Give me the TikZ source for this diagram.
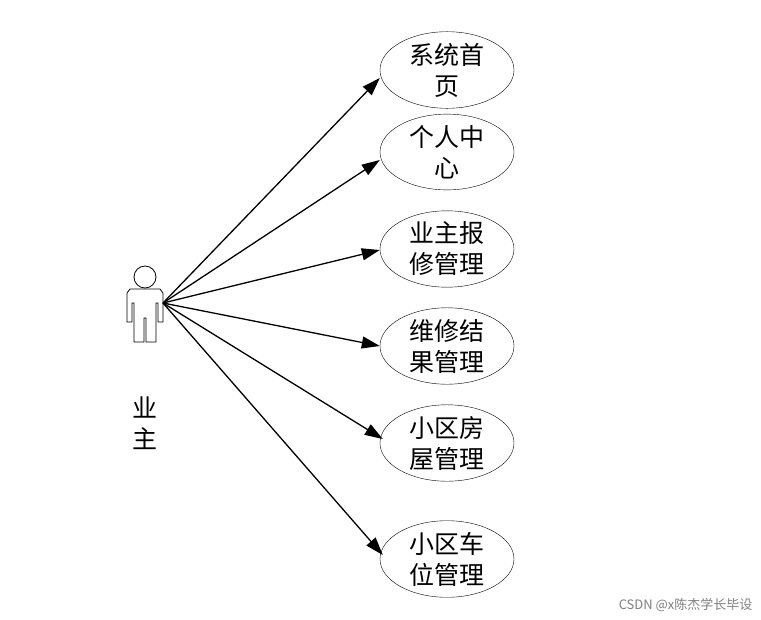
\documentclass[tikz,border=0pt]{standalone}
\usepackage{fontspec}
\newfontfamily\cjk{Noto Sans CJK SC}
\usetikzlibrary{arrows.meta,shapes.geometric}
\begin{document}
\begin{tikzpicture}[x=1pt,y=-1pt,
  uc/.style={draw,ellipse,minimum width=134pt,minimum height=69pt,inner sep=0pt,align=center,font=\cjk\fontsize{25}{31}\selectfont},
  conn/.style={-{Triangle[length=18pt,width=12pt]},line width=1.3pt}]
\useasboundingbox (0,0) rectangle (761,619);
\fill[white] (0,0) rectangle (761,619);
\node[uc] (u1) at (447,70) {系统首\\页};
\node[uc] (u2) at (447,152) {个人中\\心};
\node[uc] (u3) at (447,249) {业主报\\修管理};
\node[uc] (u4) at (447,346) {维修结\\果管理};
\node[uc] (u5) at (447,443) {小区房\\屋管理};
\node[uc] (u6) at (447,559) {小区车\\位管理};
\draw[line width=0.8pt] (145,277) circle (11);
\draw[line width=0.8pt] (130,289) -- (160,289) -- (163,293) -- (163,322) -- (158,322) -- (158,303) -- (156,303) -- (156,342) -- (146,342) -- (146,318) -- (144,318) -- (144,342) -- (134,342) -- (134,303) -- (132,303) -- (132,322) -- (127,322) -- (127,293) -- cycle;
\coordinate (a) at (163,303);
\node[font=\cjk\fontsize{25}{31}\selectfont,align=center] (lbl) at (145,423) {业\\主};
\draw[conn] (a) -- ([yshift=-8pt]u1.west);
\draw[conn] (a) -- ([yshift=-8pt]u2.west);
\draw[conn] (a) -- ([yshift=-1pt]u3.west);
\draw[conn] (a) -- ([yshift=0pt]u4.west);
\draw[conn] (a) -- ([xshift=3pt,yshift=4pt]u5.west);
\draw[conn] (a) -- ([xshift=3pt,yshift=4pt]u6.west);
\node[font=\cjk\fontsize{13}{15}\selectfont,text=gray,anchor=east] (wm) at (756,605) {CSDN @x陈杰学长毕设};
\end{tikzpicture}
\end{document}
